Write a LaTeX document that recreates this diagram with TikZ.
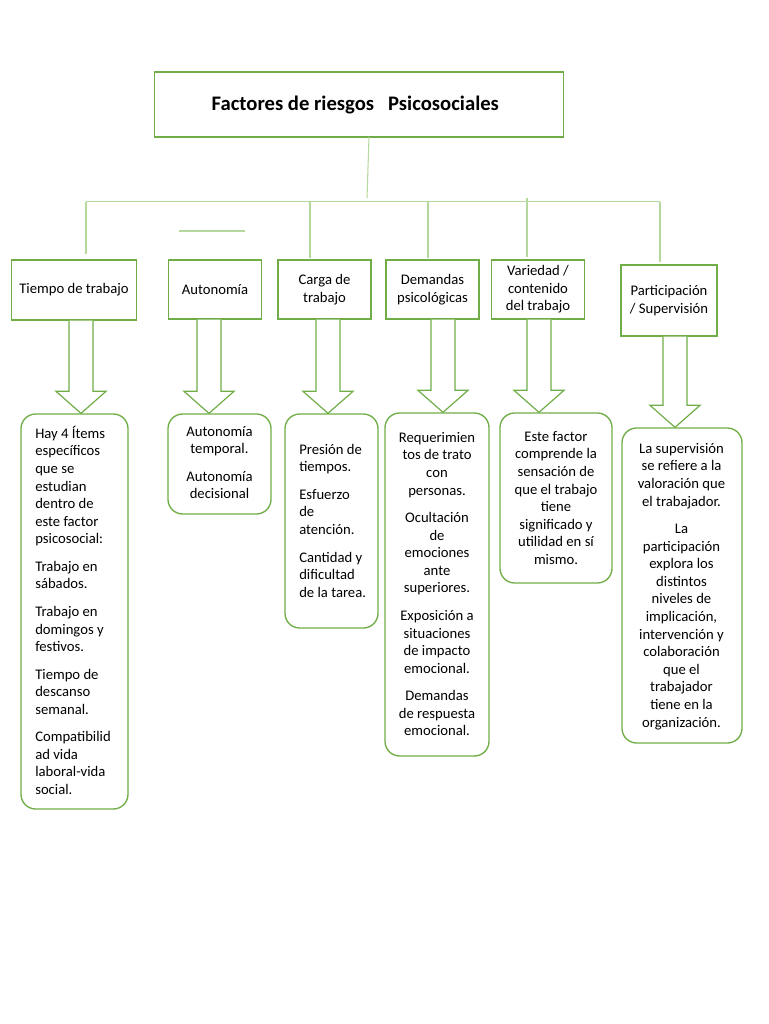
\documentclass[tikz,border=0pt]{standalone}
\usepackage{fontspec}
\setmainfont{Carlito}
\usetikzlibrary{calc}
\definecolor{grn}{HTML}{70AD47}
\definecolor{lgrn}{HTML}{B5D89D}
\def\u{0.75pt}
\newcommand\blockarr[3]{%
  \draw[blkarrow] let \p1=(#1.south), \p2=(#2.north), \p3=(#3) in
   (\x3-9pt,\y1) -- (\x3-9pt,\y2+16.5pt) -- (\x3-18.75pt,\y2+16.5pt) -- (\x3,\y2)
   -- (\x3+18.75pt,\y2+16.5pt) -- (\x3+9pt,\y2+16.5pt) -- (\x3+9pt,\y1);}
\tikzset{
  titlebox/.style={draw=grn, line width=1.2pt, inner sep=0pt,
    font=\fontsize{15.5}{18}\selectfont\bfseries},
  rowbox/.style={draw=grn, line width=1.1pt, inner sep=0pt, align=center,
    font=\fontsize{11}{13.2}\selectfont},
  detbox/.style={draw=grn, line width=1pt, rounded corners=11pt, inner sep=0pt},
  bodytxt/.style={inner sep=0pt, font=\fontsize{11}{13.2}\selectfont},
  conn/.style={draw=lgrn, line width=0.8pt},
  blkarrow/.style={draw=grn, line width=0.9pt, line join=miter, fill=white},
}
\begin{document}
\begin{tikzpicture}[x=0.75pt,y=-0.75pt]
\useasboundingbox (0,0) rectangle (768,1024);

% title
\node[titlebox, minimum width=409*\u, minimum height=65*\u] (title) at (359,104.5)
  {Factores de riesgos\ \ \ Psicosociales\hspace*{5.5pt}};

% row boxes
\node[rowbox, minimum width=125*\u, minimum height=60*\u] (t1) at (74,290) {Tiempo de trabajo};
\node[rowbox, minimum width=93*\u, minimum height=59*\u] (t2) at (215,289.5) {Autonomía};
\node[rowbox, minimum width=93*\u, minimum height=59*\u] (t3) at (324.5,289.5) {Carga de\\trabajo};
\node[rowbox, minimum width=93*\u, minimum height=59*\u] (t4) at (432.5,289.5) {Demandas\\psicológicas};
\node[rowbox, minimum width=93*\u, minimum height=59*\u] (t5) at (538,289.5) {Variedad /\\contenido\\del trabajo};
\node[rowbox, minimum width=96*\u, minimum height=71*\u] (t6) at (669,300.5) {Participación\\/ Supervisión};

% connectors
\coordinate (jt) at (369,137);
\coordinate (jb) at (367,198);
\coordinate (busl) at (86,201.5);
\coordinate (busr) at (660,201.5);
\coordinate (d1a) at (86,201.5);   \coordinate (d1b) at (86,254);
\coordinate (d3a) at (310,201.5);  \coordinate (d3b) at (310,258);
\coordinate (d4a) at (428,201.5);  \coordinate (d4b) at (428,258);
\coordinate (d5a) at (527,198);    \coordinate (d5b) at (527,257);
\coordinate (d6a) at (660,201.5);  \coordinate (d6b) at (660,262);
\coordinate (sa) at (179,231);     \coordinate (sb) at (245,231);
\draw[conn] (jt) -- (jb);
\draw[conn] (busl) -- (busr);
\draw[conn] (d1a) -- (d1b);
\draw[conn] (d3a) -- (d3b);
\draw[conn] (d4a) -- (d4b);
\draw[conn] (d5a) -- (d5b);
\draw[conn] (d6a) -- (d6b);
\draw[conn] (sa) -- (sb);

% detail boxes
\node[detbox, minimum width=107*\u, minimum height=395*\u] (b1) at (74.5,611.5) {};
\node[detbox, minimum width=103*\u, minimum height=100*\u] (b2) at (219.5,464) {};
\node[detbox, minimum width=93*\u, minimum height=214*\u] (b3) at (331.5,521) {};
\node[detbox, minimum width=104*\u, minimum height=343*\u] (b4) at (437,584.5) {};
\node[detbox, minimum width=112*\u, minimum height=170*\u] (b5) at (556,498) {};
\node[detbox, minimum width=120*\u, minimum height=315*\u] (b6) at (682,585.5) {};

% arrow x positions
\coordinate (a1) at (81,0);
\coordinate (a2) at (209,0);
\coordinate (a3) at (328,0);
\coordinate (a4) at (443,0);
\coordinate (a5) at (539,0);
\coordinate (a6) at (675,0);
\blockarr{t1}{b1}{a1}
\blockarr{t2}{b2}{a2}
\blockarr{t3}{b3}{a3}
\blockarr{t4}{b4}{a4}
\blockarr{t5}{b5}{a5}
\blockarr{t6}{b6}{a6}

% texts
\node[bodytxt, align=left, anchor=north west] (x1) at (35,425.7) {\strut Hay 4 Ítems\\específicos\\que se\\estudian\\dentro de\\este factor\\psicosocial:\\[7.4pt]
Trabajo en\\sábados.\\[7.4pt]
Trabajo en\\domingos y\\festivos.\\[7.4pt]
Tiempo de\\descanso\\semanal.\\[7.4pt]
Compatibilid\\ad vida\\laboral-vida\\social.};
\node[bodytxt, align=center, anchor=north] (x2) at (219.5,423.7) {\strut Autonomía\\temporal.\\[7.4pt]Autonomía\\decisional};
\node[bodytxt, align=left, anchor=north west] (x3) at (299,441.7) {\strut Presión de\\tiempos.\\[7.4pt]
Esfuerzo\\de\\atención.\\[7.4pt]
Cantidad y\\dificultad\\de la tarea.};
\node[bodytxt, align=center, anchor=north] (x4) at (437,429.7) {\strut Requerimien\\tos de trato\\con\\personas.\\[7.4pt]
Ocultación\\de\\emociones\\ante\\superiores.\\[7.4pt]
Exposición a\\situaciones\\de impacto\\emocional.\\[7.4pt]
Demandas\\de respuesta\\emocional.};
\node[bodytxt, align=center, anchor=north] (x5) at (556,428.7) {\strut Este factor\\comprende la\\sensación de\\que el trabajo\\tiene\\significado y\\utilidad en sí\\mismo.};
\node[bodytxt, align=center, anchor=north] (x6) at (681.5,440.7) {\strut La supervisión\\se refiere a la\\valoración que\\el trabajador.\\[7.4pt]
La\\participación\\explora los\\distintos\\niveles de\\implicación,\\intervención y\\colaboración\\que el\\trabajador\\tiene en la\\organización.};
\end{tikzpicture}
\end{document}
